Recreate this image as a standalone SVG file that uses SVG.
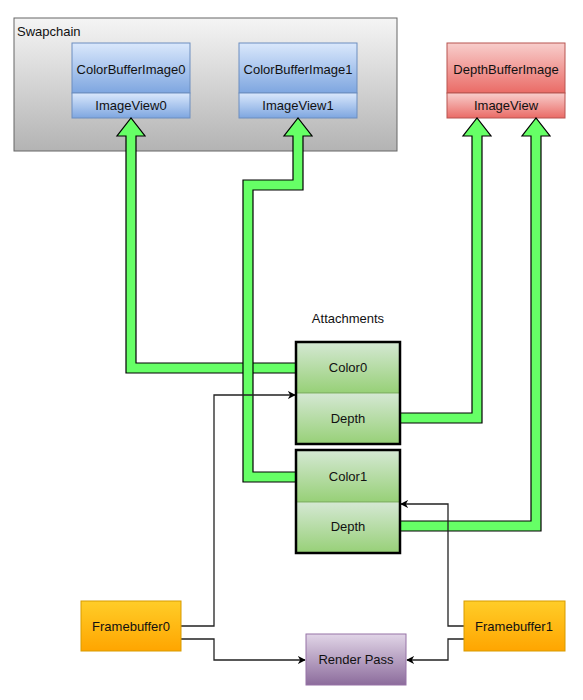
<svg xmlns="http://www.w3.org/2000/svg" width="583" height="700" viewBox="0 0 583 700">
<defs>
<linearGradient id="gGray" x1="0" y1="0" x2="0" y2="1"><stop offset="0" stop-color="#f5f5f5"/><stop offset="1" stop-color="#b3b3b3"/></linearGradient>
<linearGradient id="gBlue" x1="0" y1="0" x2="0" y2="1"><stop offset="0" stop-color="#dae8fc"/><stop offset="1" stop-color="#7ea6e0"/></linearGradient>
<linearGradient id="gRed" x1="0" y1="0" x2="0" y2="1"><stop offset="0" stop-color="#f8cecc"/><stop offset="1" stop-color="#ea6b66"/></linearGradient>
<linearGradient id="gGreen" x1="0" y1="0" x2="0" y2="1"><stop offset="0" stop-color="#d5e8d4"/><stop offset="1" stop-color="#97d077"/></linearGradient>
<linearGradient id="gOrange" x1="0" y1="0" x2="0" y2="1"><stop offset="0" stop-color="#ffcd28"/><stop offset="1" stop-color="#ffa500"/></linearGradient>
<linearGradient id="gPurple" x1="0" y1="0" x2="0" y2="1"><stop offset="0" stop-color="#e1d5e7"/><stop offset="1" stop-color="#8c6c9c"/></linearGradient>
<marker id="ah" viewBox="0 0 10 10" refX="9" refY="5" markerWidth="8" markerHeight="8" markerUnits="userSpaceOnUse" orient="auto">
<path d="M0,0 L10,5 L0,10 L3,5 z" fill="#000"/>
</marker>
</defs>
<style>
text{font-family:"Liberation Sans",Arial,sans-serif;font-size:13px;fill:#111;}
.c{text-anchor:middle;}
.blue{fill:url(#gBlue);stroke:#6c8ebf;stroke-width:1;}
.red{fill:url(#gRed);stroke:#b85450;stroke-width:1;}
.green{fill:url(#gGreen);stroke:#82b366;stroke-width:1;}
.orange{fill:url(#gOrange);stroke:#d79b00;stroke-width:1;}
.purple{fill:url(#gPurple);stroke:#9673a6;stroke-width:1;}
.outline{fill:none;stroke:#000;stroke-width:2.5;}
.flex{fill:#66ff66;stroke:#000;stroke-width:1.2;stroke-linejoin:miter;}
.thin{fill:none;stroke:#222;stroke-width:1.3;}
</style>

<g id="swapchain">
<rect x="14" y="18" width="383" height="133" fill="url(#gGray)" stroke="#666" stroke-width="1"/>
<text x="17" y="36">Swapchain</text>
</g>

<g id="colorbuffer0">
<rect class="blue" x="72" y="43" width="118" height="50"/>
<rect class="blue" x="72" y="93" width="118" height="25"/>
<text class="c" x="131" y="74">ColorBufferImage0</text>
<text class="c" x="131" y="110">ImageView0</text>
</g>

<g id="colorbuffer1">
<rect class="blue" x="239" y="43" width="118" height="50"/>
<rect class="blue" x="239" y="93" width="118" height="25"/>
<text class="c" x="298" y="74">ColorBufferImage1</text>
<text class="c" x="298" y="110">ImageView1</text>
</g>

<g id="depthbuffer">
<rect class="red" x="447" y="43" width="118" height="50"/>
<rect class="red" x="447" y="93" width="118" height="25"/>
<text class="c" x="506" y="74">DepthBufferImage</text>
<text class="c" x="506" y="110">ImageView</text>
</g>

<g id="attachments-label">
<text class="c" x="348" y="323">Attachments</text>
</g>

<g id="connectors">
<polygon class="flex" points="296,363 136,363 136,136 145,136 131,118 117,136 126,136 126,373 296,373"/>
<polygon class="flex" points="296,472 253,472 253,190 303,190 303,136 312,136 298,118 284,136 293,136 293,180 243,180 243,482 296,482"/>
<polygon class="flex" points="400,413 472,413 472,136 463,136 477,118 491,136 482,136 482,423 400,423"/>
<polygon class="flex" points="400,521 531,521 531,136 522,136 536,118 550,136 541,136 541,531 400,531"/>
<polyline class="thin" points="181,626 214,626 214,395 295,395" marker-end="url(#ah)"/>
<polyline class="thin" points="181,639 214,639 214,660 305,660" marker-end="url(#ah)"/>
<polyline class="thin" points="464,626 448,626 448,504 401,504" marker-end="url(#ah)"/>
<polyline class="thin" points="464,639 448,639 448,660 407,660" marker-end="url(#ah)"/>
</g>

<g id="attachment0">
<rect class="green" x="296" y="342" width="104" height="51"/>
<rect class="green" x="296" y="393" width="104" height="51"/>
<rect class="outline" x="296" y="342" width="104" height="102"/>
<text class="c" x="348" y="372">Color0</text>
<text class="c" x="348" y="423">Depth</text>
</g>

<g id="attachment1">
<rect class="green" x="296" y="450" width="104" height="52"/>
<rect class="green" x="296" y="502" width="104" height="51"/>
<rect class="outline" x="296" y="450" width="104" height="103"/>
<text class="c" x="348" y="481">Color1</text>
<text class="c" x="348" y="531">Depth</text>
</g>

<g id="framebuffer0">
<rect class="orange" x="81" y="601" width="100" height="50"/>
<text class="c" x="131" y="631">Framebuffer0</text>
</g>

<g id="framebuffer1">
<rect class="orange" x="464" y="601" width="101" height="50"/>
<text class="c" x="514" y="631">Framebuffer1</text>
</g>

<g id="renderpass">
<rect class="purple" x="306" y="634" width="100" height="51"/>
<text class="c" x="356" y="664">Render Pass</text>
</g>
</svg>
